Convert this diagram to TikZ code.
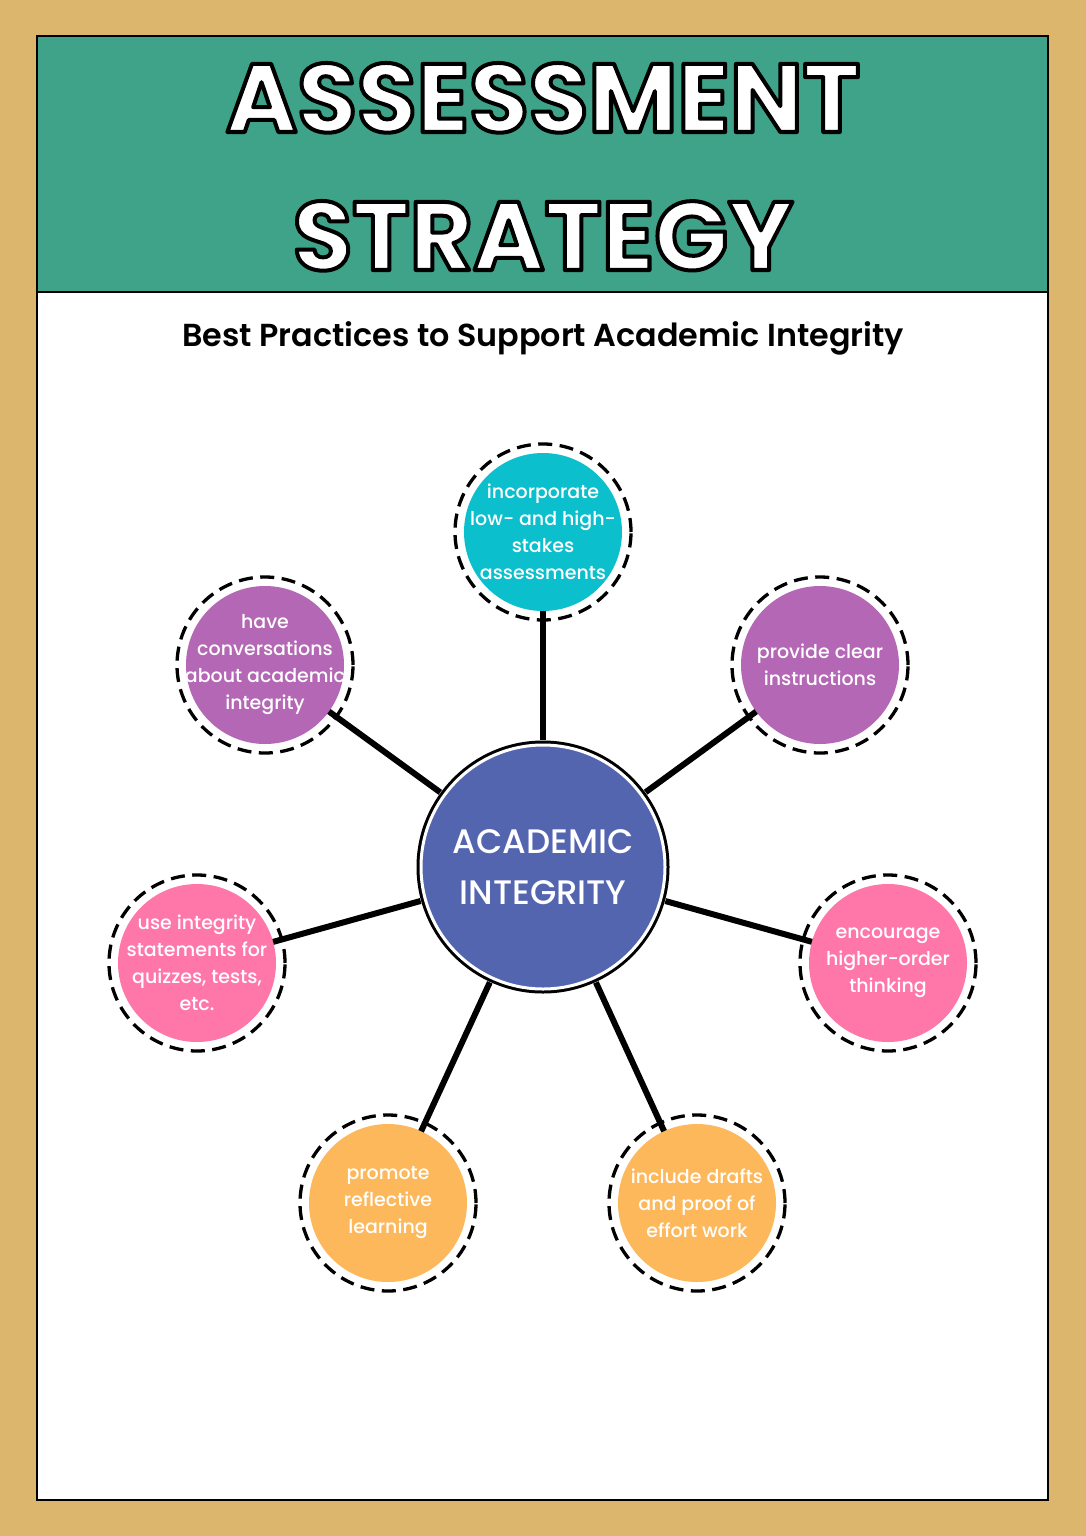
\documentclass[tikz,border=0pt]{standalone}
\usepackage{fontspec}
\setmainfont{Poppins}
\IfFontExistsTF{Poppins Medium}{\newfontfamily\popmed{Poppins Medium}}{\newfontfamily\popmed{Poppins}}
\IfFontExistsTF{Poppins SemiBold}{\newfontfamily\popsemi{Poppins SemiBold}}{\newfontfamily\popsemi{Poppins}[FakeBold=1.5]}

\definecolor{framegold}{RGB}{221,182,109}
\definecolor{headgreen}{RGB}{63,163,138}
\definecolor{hubblue}{RGB}{84,101,176}
\definecolor{leafcyan}{RGB}{11,191,204}
\definecolor{leafpurple}{RGB}{180,103,181}
\definecolor{leafpink}{RGB}{255,119,169}
\definecolor{leaforange}{RGB}{253,184,91}

% white letters with a black outline
\newcommand{\outlined}[1]{\special{pdf:literal direct 2 Tr 4 w 1 j 0 0 0 RG}#1\special{pdf:literal direct 0 Tr}}

\tikzset{
  hub/.style={circle, fill=hubblue, draw=white, line width=3pt, minimum size=244pt,
    outer sep=5pt, preaction={draw=black, line width=9pt}, text=white, align=center,
    font=\fontsize{34}{51}\popmed},
  leaf/.style={circle, fill=#1, minimum size=158pt, inner sep=0pt, outer sep=0pt},
  leaftext/.style={text=white, align=center, inner sep=0pt, font=\fontsize{19}{27}\popmed},
  headline/.style={anchor=base, text=white, font=\fontsize{97}{97}\selectfont\bfseries},
  ring/.style={line width=3.3pt, dash pattern=on 14pt off 7.5pt},
  spoke/.style={line width=6pt}
}

\begin{document}
\begin{tikzpicture}[x=1pt,y=-1pt]
  % frame and header
  \fill[framegold] (0,0) rectangle (1086,1536);
  \draw[line width=2pt, fill=white] (37,36) rectangle (1048,1500);
  \draw[line width=2pt, fill=headgreen] (37,36) rectangle (1048,292);
  \node[headline] (title1) at (543,132) {\outlined{ASSESSMENT}};
  \node[headline] (title2) at (543,270) {\outlined{STRATEGY}};
  \node[anchor=base, font=\fontsize{31.8}{32}\popsemi] (subtitle) at (543,346) {Best Practices to Support Academic Integrity};

  % hub and leaves
  \node[hub] (ai) at (543,867) {ACADEMIC\\INTEGRITY};
  \node[leaf=leafcyan, label={[leaftext]center:incorporate\\low- and high-\\stakes\\assessments}] (stakes) at (543,532) {};
  \node[leaf=leafpurple, label={[leaftext]center:have\\conversations\\about academic\\integrity}] (talk) at (265,665) {};
  \node[leaf=leafpurple, label={[leaftext]center:provide clear\\instructions}] (clear) at (820,665) {};
  \node[leaf=leafpink, label={[leaftext]center:use integrity\\statements for\\quizzes, tests,\\etc.}] (pledge) at (197,963) {};
  \node[leaf=leafpink, label={[leaftext]center:encourage\\higher-order\\thinking}] (higher) at (888,963) {};
  \node[leaf=leaforange, label={[leaftext]center:promote\\reflective\\learning}] (reflect) at (388,1203) {};
  \node[leaf=leaforange, label={[leaftext]center:include drafts\\and proof of\\effort work}] (drafts) at (697,1203) {};

  \foreach \n in {stakes,talk,clear,pledge,higher,reflect,drafts}{
    \draw[spoke] (ai) -- (\n);
    \draw[ring] (\n) circle (88pt);
  }
\end{tikzpicture}
\end{document}
